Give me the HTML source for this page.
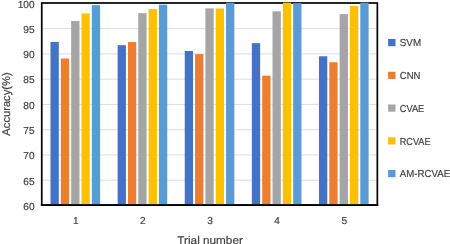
<!DOCTYPE html>
<html><head><meta charset="utf-8"><title>Accuracy chart</title>
<style>html,body{margin:0;padding:0;background:#fff;overflow:hidden}svg{display:block}text{font-family:"Liberation Sans",sans-serif;fill:#444444;text-rendering:geometricPrecision;stroke:#444444;stroke-width:0.2px}</style></head>
<body>
<svg width="450" height="244" viewBox="0 0 450 244">
<rect width="450" height="244" fill="#fff"/>
<line x1="41.75" x2="377.35" y1="180.23" y2="180.23" stroke="#D9D9D9" stroke-width="0.9"/>
<line x1="41.75" x2="377.35" y1="154.96" y2="154.96" stroke="#D9D9D9" stroke-width="0.9"/>
<line x1="41.75" x2="377.35" y1="129.69" y2="129.69" stroke="#D9D9D9" stroke-width="0.9"/>
<line x1="41.75" x2="377.35" y1="104.42" y2="104.42" stroke="#D9D9D9" stroke-width="0.9"/>
<line x1="41.75" x2="377.35" y1="79.16" y2="79.16" stroke="#D9D9D9" stroke-width="0.9"/>
<line x1="41.75" x2="377.35" y1="53.89" y2="53.89" stroke="#D9D9D9" stroke-width="0.9"/>
<line x1="41.75" x2="377.35" y1="28.62" y2="28.62" stroke="#D9D9D9" stroke-width="0.9"/>
<rect x="41.75" y="3.00" width="335.60" height="202.15" fill="none" stroke="#000" stroke-width="1.7"/>
<rect x="50.50" y="41.91" width="8.30" height="162.44" fill="#4472C4"/>
<rect x="60.83" y="58.49" width="8.30" height="145.86" fill="#ED7D31"/>
<rect x="71.16" y="21.04" width="8.30" height="183.31" fill="#A5A5A5"/>
<rect x="81.49" y="13.46" width="8.30" height="190.89" fill="#FFC000"/>
<rect x="91.82" y="5.17" width="8.30" height="199.18" fill="#5B9BD5"/>
<rect x="117.62" y="45.20" width="8.30" height="159.15" fill="#4472C4"/>
<rect x="127.95" y="42.07" width="8.30" height="162.28" fill="#ED7D31"/>
<rect x="138.28" y="13.16" width="8.30" height="191.19" fill="#A5A5A5"/>
<rect x="148.61" y="9.12" width="8.30" height="195.23" fill="#FFC000"/>
<rect x="158.94" y="4.72" width="8.30" height="199.63" fill="#5B9BD5"/>
<rect x="184.74" y="50.96" width="8.30" height="153.39" fill="#4472C4"/>
<rect x="195.07" y="54.09" width="8.30" height="150.26" fill="#ED7D31"/>
<rect x="205.40" y="8.36" width="8.30" height="195.99" fill="#A5A5A5"/>
<rect x="215.73" y="8.46" width="8.30" height="195.89" fill="#FFC000"/>
<rect x="226.06" y="2.70" width="8.30" height="201.65" fill="#5B9BD5"/>
<rect x="251.86" y="43.18" width="8.30" height="161.17" fill="#4472C4"/>
<rect x="262.19" y="75.67" width="8.30" height="128.68" fill="#ED7D31"/>
<rect x="272.52" y="11.34" width="8.30" height="193.01" fill="#A5A5A5"/>
<rect x="282.85" y="2.70" width="8.30" height="201.65" fill="#FFC000"/>
<rect x="293.18" y="3.15" width="8.30" height="201.20" fill="#5B9BD5"/>
<rect x="318.98" y="56.27" width="8.30" height="148.08" fill="#4472C4"/>
<rect x="329.31" y="62.23" width="8.30" height="142.12" fill="#ED7D31"/>
<rect x="339.64" y="14.07" width="8.30" height="190.28" fill="#A5A5A5"/>
<rect x="349.97" y="5.98" width="8.30" height="198.37" fill="#FFC000"/>
<rect x="360.30" y="2.70" width="8.30" height="201.65" fill="#5B9BD5"/>
<line x1="40.88" x2="378.22" y1="205.15" y2="205.15" stroke="#000" stroke-width="1.7"/>
<text x="34.6" y="209.80" font-size="10.1" text-anchor="end">60</text>
<text x="34.6" y="184.53" font-size="10.1" text-anchor="end">65</text>
<text x="34.6" y="159.26" font-size="10.1" text-anchor="end">70</text>
<text x="34.6" y="133.99" font-size="10.1" text-anchor="end">75</text>
<text x="34.6" y="108.73" font-size="10.1" text-anchor="end">80</text>
<text x="34.6" y="83.46" font-size="10.1" text-anchor="end">85</text>
<text x="34.6" y="58.19" font-size="10.1" text-anchor="end">90</text>
<text x="34.6" y="32.92" font-size="10.1" text-anchor="end">95</text>
<text x="34.6" y="7.65" font-size="10.1" text-anchor="end">100</text>
<text x="75.81" y="224.1" font-size="10.1" text-anchor="middle">1</text>
<text x="142.93" y="224.1" font-size="10.1" text-anchor="middle">2</text>
<text x="210.05" y="224.1" font-size="10.1" text-anchor="middle">3</text>
<text x="277.17" y="224.1" font-size="10.1" text-anchor="middle">4</text>
<text x="344.29" y="224.1" font-size="10.1" text-anchor="middle">5</text>
<text x="210.1" y="243.7" font-size="11.2" text-anchor="middle" textLength="65.5" lengthAdjust="spacingAndGlyphs">Trial number</text>
<text transform="translate(9.85,104) rotate(-90)" font-size="11.2" text-anchor="middle" textLength="63.3" lengthAdjust="spacingAndGlyphs">Accuracy(%)</text>
<rect x="388.1" y="39.00" width="7.4" height="7.2" fill="#4472C4"/>
<text x="399.8" y="46.25" font-size="10.1" textLength="21.3" lengthAdjust="spacingAndGlyphs">SVM</text>
<rect x="388.1" y="71.75" width="7.4" height="7.2" fill="#ED7D31"/>
<text x="399.8" y="79.05" font-size="10.1" textLength="20.6" lengthAdjust="spacingAndGlyphs">CNN</text>
<rect x="388.1" y="104.50" width="7.4" height="7.2" fill="#A5A5A5"/>
<text x="399.8" y="111.85" font-size="10.1" textLength="24.4" lengthAdjust="spacingAndGlyphs">CVAE</text>
<rect x="388.1" y="137.25" width="7.4" height="7.2" fill="#FFC000"/>
<text x="399.8" y="144.65" font-size="10.1" textLength="30.7" lengthAdjust="spacingAndGlyphs">RCVAE</text>
<rect x="388.1" y="170.00" width="7.4" height="7.2" fill="#5B9BD5"/>
<text x="399.8" y="177.45" font-size="10.1" textLength="50.3" lengthAdjust="spacingAndGlyphs">AM-RCVAE</text>
</svg>
</body></html>
